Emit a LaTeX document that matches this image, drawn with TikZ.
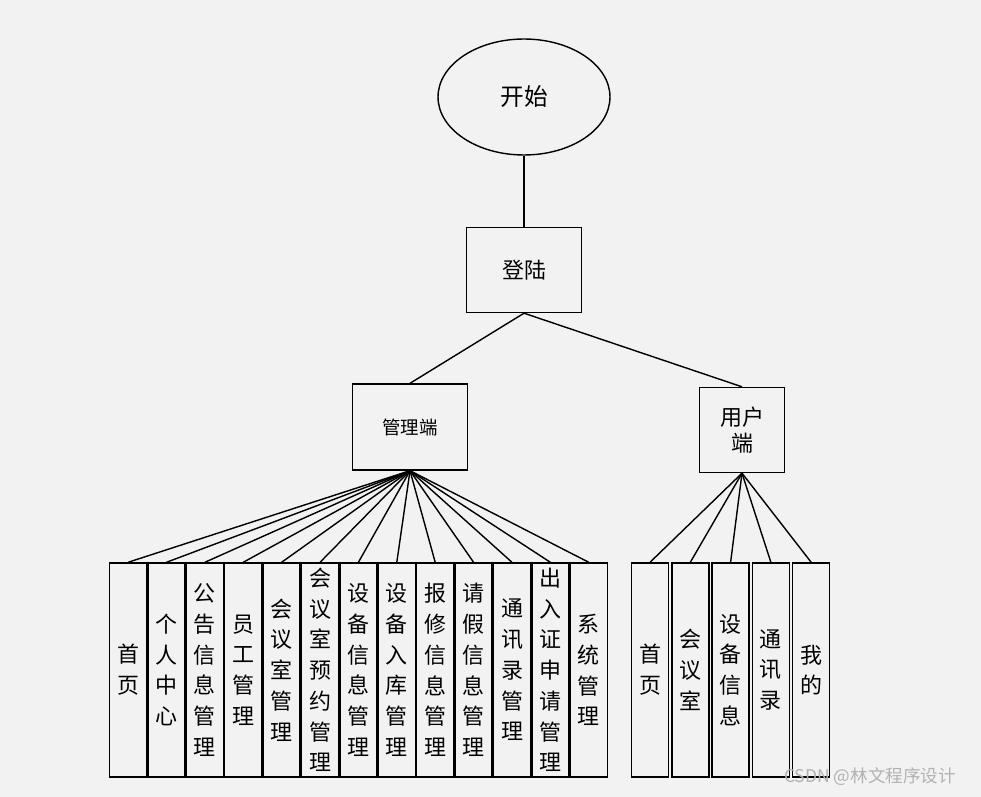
\documentclass[tikz,border=0pt]{standalone}
\usepackage{fontspec}
\setmainfont{Noto Sans CJK SC}
\usetikzlibrary{shapes.geometric}

\begin{document}
\begin{tikzpicture}[x=0.02cm, y=-0.02cm,
    box_style/.style={draw, thick, fill=gray!10, font=\fontsize{12.5}{15}\selectfont, align=center},
    leaf_style/.style={draw, thick, fill=gray!10, minimum width=0.74cm, minimum height=4.28cm,
        inner sep=0pt, align=center, font=\fontsize{12.5}{17.5}\selectfont},
    link_style/.style={thick}
]
    % canvas
    \fill[gray!10] (0,0) rectangle (981,797);
    \useasboundingbox (0,0) rectangle (981,797);

    % top of the tree
    \node[ellipse, draw, thick, fill=gray!10, minimum width=3.44cm, minimum height=2.32cm,
        font=\fontsize{13.5}{15}\selectfont] (start) at (524,97) {开始};
    \node[box_style, minimum width=2.3cm, minimum height=1.7cm] (login) at (524,270) {登陆};
    \node[box_style, minimum width=2.3cm, minimum height=1.72cm,
        font=\fontsize{10.5}{12}\selectfont] (admin) at (410,427) {管理端};
    \node[box_style, minimum width=1.7cm, minimum height=1.7cm, text width=1.3cm,
        font=\fontsize{12.5}{15}\selectfont] (user) at (742,430) {用户\\端};

    \draw[link_style] (start) -- (login);
    \draw[link_style] (login.south) -- (admin.north);
    \draw[link_style] (login.south) -- (user.north);

    % admin modules
    \foreach \txt [count=\i from 0] in {{首\\页}, {个\\人\\中\\心}, {公\\告\\信\\息\\管\\理},
        {员\\工\\管\\理}, {会\\议\\室\\管\\理}, {会\\议\\室\\预\\约\\管\\理},
        {设\\备\\信\\息\\管\\理}, {设\\备\\入\\库\\管\\理}, {报\\修\\信\\息\\管\\理},
        {请\\假\\信\\息\\管\\理}, {通\\讯\\录\\管\\理}, {出\\入\\证\\申\\请\\管\\理},
        {系\\统\\管\\理}} {
        \node[leaf_style] (a\i) at ({128+38.4*\i},670) {\txt};
        \draw[link_style] (admin.south) -- (a\i.north);
    }

    % user modules
    \foreach \txt [count=\i from 0] in {{首\\页}, {会\\议\\室}, {设\\备\\信\\息},
        {通\\讯\\录}, {我\\的}} {
        \node[leaf_style] (u\i) at ({650+40.3*\i},670) {\txt};
        \draw[link_style] (user.south) -- (u\i.north);
    }

    % watermark
    \node[gray!60, font=\fontsize{10}{12}\selectfont] (mark) at (870,777) {CSDN @林文程序设计};
\end{tikzpicture}
\end{document}
